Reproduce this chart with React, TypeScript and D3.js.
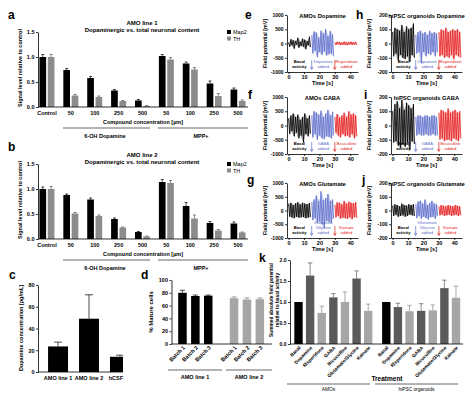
import { useRef, useEffect, FC } from 'react'
import * as d3 from 'd3'

const FONT = 'Arial, "Liberation Sans", Helvetica, sans-serif'
const DARK = '#5a5a5a'
const LIGHT = '#a6a6a6'
const MID = '#8c8c8c'
const BLUE = '#6070cc'
const RED = '#e42222'

// panels a / b
const doseKeys = ['c', 'd50', 'd100', 'd250', 'd500', 'm50', 'm100', 'm250', 'm500']
const doseLabels = ['Control', '50', '100', '250', '500', '50', '100', '250', '500']
const amo1Map2 = [1.0, 0.74, 0.58, 0.33, 0.13, 1.02, 0.87, 0.47, 0.35]
const amo1Map2Err = [0.05, 0.03, 0.03, 0.02, 0.02, 0.03, 0.03, 0.05, 0.03]
const amo1TH = [1.0, 0.23, 0.2, 0.12, 0.02, 0.95, 0.75, 0.22, 0.12]
const amo1THErr = [0.05, 0.02, 0.02, 0.01, 0.01, 0.04, 0.04, 0.05, 0.02]
const amo2Map2 = [1.0, 0.88, 0.79, 0.4, 0.14, 1.14, 0.66, 0.32, 0.31]
const amo2Map2Err = [0.04, 0.02, 0.03, 0.02, 0.01, 0.05, 0.07, 0.03, 0.03]
const amo2TH = [1.0, 0.51, 0.46, 0.23, 0.05, 1.12, 0.41, 0.17, 0.13]
const amo2THErr = [0.05, 0.02, 0.02, 0.01, 0.01, 0.05, 0.07, 0.02, 0.01]

// panel c
const dopSources = ['AMO line 1', 'AMO line 2', 'hCSF']
const dopConc = [23.5, 49, 14]
const dopConcErr = [4, 22, 1.5]

// panel d
const batchKeys = ['a1', 'a2', 'a3', 'gap', 'b1', 'b2', 'b3']
const batchLabels = ['Batch 1', 'Batch 2', 'Batch 3']
const matureAmo1 = [80, 75, 75.5]
const matureAmo1Err = [4, 1.5, 1]
const matureAmo2 = [71.5, 69.5, 70]
const matureAmo2Err = [2, 2.5, 2]

// panel k
const treatments = ['Basal', 'Dopamine', 'Risperidone', 'GABA', 'Bicuculline', 'Glutamate/Glycine', 'Kainate']
const treatmentColors = ['#000', DARK, LIGHT, DARK, LIGHT, DARK, LIGHT]
const amosSummed = [1.0, 1.63, 0.74, 1.11, 1.0, 1.56, 0.79]
const amosSummedErr = [0, 0.3, 0.16, 0.09, 0.24, 0.18, 0.16]
const hipscSummed = [1.0, 0.88, 0.78, 0.79, 0.8, 1.33, 1.1]
const hipscSummedErr = [0, 0.09, 0.14, 0.17, 0.13, 0.19, 0.28]

// panels e-j, field potential samples (mV), one every 0.75 s
const amosDopBasal = [40, -120, 150, -60, 110, -180, 90, -40, 200, -150, 60, -90, 170, -110, 130, -200, 80, -60, 240, -130]
const amosDopAdded = [300, -350, 420, -250, 380, -480, 200, -300, 450, -400, 350, -280, 500, -420, 260, -380, 440, -350, 310, -450]
const amosDopBlocked = [40, -50, 60, -30, 50, -60, 30, -40, 70, -50, 40, -60, 50, -30, 60, -50, 40, -40, 60, -50]
const amosGabaBasal = [250, -300, 350, -200, 420, -380, 300, -250, 380, -450, 200, -350, 300, -600, 420, -300, 250, -380, 350, -280]
const amosGabaAdded = [350, -420, 500, -300, 450, -500, 380, -350, 520, -450, 300, -480, 420, -380, 550, -400, 350, -450, 480, -350]
const amosGabaBlocked = [300, -250, 400, -350, 280, -420, 350, -300, 450, -380, 300, -350, 500, -420, 380, -300, 420, -450, 350, -380]
const amosGluBasal = [250, -220, 280, -250, 200, -280, 260, -230, 300, -260, 220, -250, 280, -240, 250, -280, 230, -260, 270, -240]
const amosGluAdded = [300, -350, 400, -280, 550, -450, 350, -400, 700, -500, 380, -650, 450, -380, 600, -420, 350, -450, 400, -300]
const amosGluBlocked = [200, -250, 300, -200, 280, -300, 220, -260, 350, -280, 250, -300, 320, -250, 280, -320, 260, -240, 300, -270]
const hipscDopBasal = [80, -90, 110, -70, 100, -120, 90, -80, 130, -100, 80, -110, 120, -90, 100, -130, 110, -80, 140, -100]
const hipscDopAdded = [60, -70, 80, -60, 90, -140, 70, -60, 80, -90, 60, -70, 90, -80, 70, -60, 80, -90, 70, -60]
const hipscDopBlocked = [80, -90, 100, -80, 90, -100, 110, -90, 80, -100, 90, -80, 100, -110, 90, -80, 100, -90, 80, -100]
const hipscGabaBasal = [100, -120, 150, -110, 170, -140, 120, -160, 180, -130, 110, -150, 160, -120, 140, -170, 120, -110, 150, -130]
const hipscGabaAdded = [60, -70, 70, -60, 70, -70, 60, -70, 70, -60, 70, -70, 60, -70, 70, -60, 70, -70, 60, -70]
const hipscGabaBlocked = [90, -100, 110, -90, 100, -110, 90, -100, 120, -100, 90, -110, 100, -90, 110, -100, 90, -110, 100, -90]
const hipscGluBasal = [35, -40, 45, -30, 40, -45, 30, -40, 50, -35, 40, -45, 35, -40, 45, -30, 40, -35, 45, -40]
const hipscGluAdded = [45, -55, 65, -40, 70, -60, 50, -45, 80, -55, 40, -65, 55, -50, 70, -45, 50, -60, 45, -40]
const hipscGluBlocked = [30, -35, 40, -30, 35, -40, 30, -35, 40, -30, 35, -40, 30, -35, 40, -30, 35, -40, 30, -35]
const timeTicks = [0, 10, 20, 30, 40]

const YAxis: FC<{ scale: d3.ScaleLinear<number, number>; x: number; ticks: number[]; fmt?: (d: number) => string; size?: number }> = ({ scale, x, ticks, fmt, size = 5.5 }) => {
	const ref = useRef<SVGGElement | null>(null)
	useEffect(() => {
		if (!ref.current) return
		const g = d3.select(ref.current)
		g.selectAll('*').remove()
		g.call(
			d3
				.axisLeft(scale)
				.tickValues(ticks)
				.tickSize(2)
				.tickSizeOuter(0)
				.tickPadding(1.5)
				.tickFormat((d: any) => (fmt ? fmt(+d) : String(d)))
		)
		g.attr('font-family', FONT).attr('font-size', size).attr('font-weight', 'bold')
		g.selectAll('path, line').attr('stroke', '#000').attr('stroke-width', 0.8)
	})
	return <g ref={ref} transform={`translate(${x},0)`} />
}

const XTimeAxis: FC<{ scale: d3.ScaleLinear<number, number>; y: number }> = ({ scale, y }) => {
	const ref = useRef<SVGGElement | null>(null)
	useEffect(() => {
		if (!ref.current) return
		const g = d3.select(ref.current)
		g.selectAll('*').remove()
		g.call(d3.axisBottom(scale).tickValues(timeTicks).tickSize(2).tickSizeOuter(0).tickPadding(1))
		g.attr('font-family', FONT).attr('font-size', 5.5).attr('font-weight', 'bold')
		g.selectAll('path, line').attr('stroke', '#000').attr('stroke-width', 0.8)
	})
	return <g ref={ref} transform={`translate(0,${y})`} />
}

const ErrBar: FC<{ x: number; y0: number; y1: number; w?: number; color?: string }> = ({ x, y0, y1, w = 3, color = '#000' }) => (
	<g stroke={color} strokeWidth={0.7}>
		<line x1={x} x2={x} y1={y0} y2={y1} />
		<line x1={x - w / 2} x2={x + w / 2} y1={y1} y2={y1} />
	</g>
)

const DoseChart: FC<{ dy: number; letter: string; title: string; map2: number[]; map2Err: number[]; th: number[]; thErr: number[] }> = ({ dy, letter, title, map2, map2Err, th, thErr }) => {
	const y = d3.scaleLinear().domain([0, 1.5]).range([107 + dy, 32 + dy])
	const x0 = d3.scaleBand().domain(doseKeys).range([35, 250])
	const x1 = d3.scaleBand().domain(['Map2', 'TH']).range([-7.5, 7.5]).paddingInner(0.2)
	const cx = (i: number) => (x0(doseKeys[i]) ?? 0) + x0.bandwidth() / 2
	const series = [
		{ key: 'Map2', vals: map2, err: map2Err, color: '#000' },
		{ key: 'TH', vals: th, err: thErr, color: MID },
	]
	return (
		<g fontFamily={FONT}>
			<text x={8} y={19 + dy} fontSize={12} fontWeight='bold'>{letter}</text>
			<text x={142} y={25 + dy} fontSize={6} fontWeight='bold' textAnchor='middle'>{title}</text>
			<text x={142} y={32 + dy} fontSize={6} fontWeight='bold' textAnchor='middle'>Dopaminergic vs. total neuronal content</text>
			<text transform={`translate(22,${68 + dy}) rotate(-90)`} fontSize={5.5} fontWeight='bold' textAnchor='middle'>Signal level relative to control</text>
			{series.map((s) =>
				s.vals.map((v, i) => {
					const bx = cx(i) + (x1(s.key) ?? 0)
					return (
						<g key={s.key + i}>
							<rect x={bx} y={y(v)} width={x1.bandwidth()} height={y(0) - y(v)} fill={s.color} />
							<ErrBar x={bx + x1.bandwidth() / 2} y0={y(v)} y1={y(v + s.err[i])} color={s.color === '#000' ? '#000' : '#555'} />
						</g>
					)
				})
			)}
			<YAxis scale={y} x={38} ticks={[0, 0.5, 1, 1.5]} fmt={d3.format('.1f')} />
			<line x1={38} x2={248} y1={y(0)} y2={y(0)} stroke='#000' strokeWidth={0.8} />
			{doseLabels.map((l, i) => (
				<text key={i} x={cx(i)} y={y(0) + 8} fontSize={5.5} fontWeight='bold' textAnchor='middle'>{l}</text>
			))}
			<text x={143} y={124 + dy} fontSize={5.5} fontWeight='bold' textAnchor='middle'>Compound concentration [µm]</text>
			<line x1={63} x2={150} y1={128 + dy} y2={128 + dy} stroke='#000' strokeWidth={0.6} />
			<line x1={158} x2={248} y1={128 + dy} y2={128 + dy} stroke='#000' strokeWidth={0.6} />
			<text x={105} y={138 + dy} fontSize={5.5} fontWeight='bold' textAnchor='middle'>6-OH Dopamine</text>
			<text x={201} y={138 + dy} fontSize={5.5} fontWeight='bold' textAnchor='middle'>MPP+</text>
			<rect x={227} y={30 + dy} width={4} height={4} fill='#000' />
			<text x={233} y={34 + dy} fontSize={5.5}>Map2</text>
			<rect x={227} y={36.5 + dy} width={4} height={4} fill={MID} />
			<text x={233} y={40.5 + dy} fontSize={5.5}>TH</text>
		</g>
	)
}

const PanelC: FC = () => {
	const y = d3.scaleLinear().domain([0, 80]).range([372, 285])
	const x = d3.scaleBand().domain(dopSources).range([42.5, 135.5]).paddingInner(0.355).paddingOuter(0.18)
	return (
		<g fontFamily={FONT}>
			<defs>
				<clipPath id='clipC'>
					<rect x={0} y={270} width={123} height={129} />
				</clipPath>
			</defs>
			<text x={9} y={279} fontSize={12} fontWeight='bold'>c</text>
			<text transform='translate(23,328) rotate(-90)' fontSize={5.5} fontWeight='bold' textAnchor='middle'>Dopamine concentration [pg/mL]</text>
			<g clipPath='url(#clipC)'>
				{dopConc.map((v, i) => {
					const bx = x(dopSources[i]) ?? 0
					return (
						<g key={i}>
							<rect x={bx} y={y(v)} width={x.bandwidth()} height={y(0) - y(v)} fill='#000' />
							<ErrBar x={bx + x.bandwidth() / 2} y0={y(v)} y1={y(v + dopConcErr[i])} w={8} />
						</g>
					)
				})}
			</g>
			<YAxis scale={y} x={38} ticks={[0, 20, 40, 60, 80]} />
			<line x1={38} x2={123} y1={y(0)} y2={y(0)} stroke='#000' strokeWidth={0.8} />
			{dopSources.map((l, i) => (
				<text key={i} x={(x(l) ?? 0) + x.bandwidth() / 2 - (i === 2 ? 4 : 0)} y={380} fontSize={5.5} fontWeight='bold' textAnchor='middle'>{l}</text>
			))}
		</g>
	)
}

const PanelD: FC = () => {
	const y = d3.scaleLinear().domain([0, 100]).range([344, 280])
	const x = d3.scaleBand().domain(batchKeys).range([176, 266.3]).paddingInner(0.34).paddingOuter(0.17)
	const groups = [
		{ keys: ['a1', 'a2', 'a3'], vals: matureAmo1, err: matureAmo1Err, color: '#000', label: 'AMO line 1', l0: 168, l1: 222 },
		{ keys: ['b1', 'b2', 'b3'], vals: matureAmo2, err: matureAmo2Err, color: LIGHT, label: 'AMO line 2', l0: 226, l1: 272 },
	]
	return (
		<g fontFamily={FONT}>
			<text x={141} y={279} fontSize={12} fontWeight='bold'>d</text>
			<text transform='translate(153,312) rotate(-90)' fontSize={6} fontWeight='bold' textAnchor='middle'>% Mature cells</text>
			{groups.map((g) => (
				<g key={g.label}>
					{g.vals.map((v, i) => {
						const bx = x(g.keys[i]) ?? 0
						const c = bx + x.bandwidth() / 2
						return (
							<g key={i}>
								<rect x={bx} y={y(v)} width={x.bandwidth()} height={y(0) - y(v)} fill={g.color} />
								<ErrBar x={c} y0={y(v)} y1={y(v + g.err[i])} w={5} color={g.color === '#000' ? '#000' : '#777'} />
								<text transform={`translate(${c + 3},${y(0) + 4}) rotate(-45)`} fontSize={5.5} fontWeight='bold' textAnchor='end'>{batchLabels[i]}</text>
							</g>
						)
					})}
					<line x1={g.l0} x2={g.l1} y1={370} y2={370} stroke='#000' strokeWidth={0.6} />
					<text x={(g.l0 + g.l1) / 2} y={379} fontSize={5.5} fontWeight='bold' textAnchor='middle'>{g.label}</text>
				</g>
			))}
			<YAxis scale={y} x={171.5} ticks={[0, 20, 40, 60, 80, 100]} />
			<line x1={171.5} x2={272} y1={y(0)} y2={y(0)} stroke='#000' strokeWidth={0.8} />
		</g>
	)
}

const PanelK: FC = () => {
	const y = d3.scaleLinear().domain([0, 2]).range([344, 260])
	const outer = d3.scaleBand().domain(['AMOs', 'hiPSC organoids']).range([292.7, 461.8]).paddingInner(0.074)
	const inner = d3.scaleBand().domain(treatments).range([0, outer.bandwidth()]).paddingInner(0.28).paddingOuter(0.14)
	const groups = [
		{ key: 'AMOs', vals: amosSummed, err: amosSummedErr, l0: 287, l1: 370 },
		{ key: 'hiPSC organoids', vals: hipscSummed, err: hipscSummedErr, l0: 375, l1: 458 },
	]
	return (
		<g fontFamily={FONT}>
			<text x={259} y={262} fontSize={12} fontWeight='bold'>k</text>
			<text transform='translate(273,300) rotate(-90)' fontSize={4.8} fontWeight='bold' textAnchor='middle'>
				<tspan x={0} dy={0}>Summed absolute field potential</tspan>
				<tspan x={0} dy={5.5}>relative to basal activity</tspan>
			</text>
			{groups.map((g) => (
				<g key={g.key}>
					{g.vals.map((v, i) => {
						const bx = (outer(g.key) ?? 0) + (inner(treatments[i]) ?? 0)
						const c = bx + inner.bandwidth() / 2
						return (
							<g key={i}>
								<rect x={bx} y={y(v)} width={inner.bandwidth()} height={y(0) - y(v)} fill={treatmentColors[i]} />
								{g.err[i] > 0 && <ErrBar x={c} y0={y(v)} y1={y(v + g.err[i])} w={4.5} color={treatmentColors[i] === LIGHT ? '#888' : treatmentColors[i]} />}
								<text transform={`translate(${c + 2.5},${y(0) + 4}) rotate(-45)`} fontSize={4.8} fontWeight='bold' textAnchor='end'>{treatments[i]}</text>
							</g>
						)
					})}
					<line x1={g.l0} x2={g.l1} y1={384} y2={384} stroke='#000' strokeWidth={0.6} />
					<text x={(g.l0 + g.l1) / 2} y={391} fontSize={4.8} textAnchor='middle'>{g.key}</text>
				</g>
			))}
			<YAxis scale={y} x={290} ticks={[0, 0.5, 1, 1.5, 2]} fmt={d3.format('.1f')} size={5} />
			<line x1={290} x2={463} y1={y(0)} y2={y(0)} stroke='#000' strokeWidth={0.8} />
			<text x={387} y={381} fontSize={6.5} fontWeight='bold' textAnchor='middle'>Treatment</text>
		</g>
	)
}

interface TraceProps {
	letter: string
	lx: number
	ly: number
	title: string
	axisX: number
	top: number
	bottom: number
	yMax: number
	basal: number[]
	added: number[]
	blocked: number[]
	addedLabel: string[]
	blockedLabel: string[]
}

const TracePanel: FC<TraceProps> = ({ letter, lx, ly, title, axisX, top, bottom, yMax, basal, added, blocked, addedLabel, blockedLabel }) => {
	const x = d3.scaleLinear().domain([-1, 45]).range([axisX, axisX + 71])
	const y = d3.scaleLinear().domain([-yMax, yMax]).range([bottom, top])
	const line = d3
		.line<number>()
		.x((_, i) => x(i * 0.75))
		.y((d) => y(d))
	// envelope: each +/- sample pair gives the band at that moment
	const area = d3
		.area<number>()
		.x((_, i) => x(i * 1.5 + 0.375))
		.y0((d, i, arr) => y(Math.min(d, (arr as number[])[i] ?? d)))
		.y1((d) => y(d))
	const pairs = (vals: number[]) => d3.range(0, vals.length, 2).map((i) => [vals[i], vals[i + 1]])
	const segs = [
		{ vals: basal, t0: 0, color: '#000' },
		{ vals: added, t0: 15, color: BLUE },
		{ vals: blocked, t0: 30, color: RED },
	]
	const arrow = (t: number, color: string) => {
		const ax = x(t)
		return (
			<path d={`M${ax},${bottom - 12}V${bottom - 3}M${ax - 1.4},${bottom - 5.2}L${ax},${bottom - 2.5}L${ax + 1.4},${bottom - 5.2}`} stroke={color} strokeWidth={0.7} fill='none' />
		)
	}
	const block = (lines: string[], t: number, color: string, bold = false) => (
		<text x={x(t)} y={bottom - 4 - (lines.length - 1) * 4.8} fontSize={4.2} fill={color} fontWeight={bold ? 'bold' : 'normal'} textAnchor='middle'>
			{lines.map((l, i) => (
				<tspan key={i} x={x(t)} dy={i === 0 ? 0 : 4.8}>{l}</tspan>
			))}
		</text>
	)
	return (
		<g fontFamily={FONT}>
			<text x={lx} y={ly} fontSize={12} fontWeight='bold'>{letter}</text>
			<text x={x(22)} y={top + 2.5} fontSize={5.8} fontWeight='bold' textAnchor='middle'>{title}</text>
			<text transform={`translate(${axisX - 20},${(top + bottom) / 2}) rotate(-90)`} fontSize={5.3} fontWeight='bold' textAnchor='middle'>Field potential [mV]</text>
			{segs.map((s, k) => {
				const p = pairs(s.vals)
				const env = d3
					.area<number[]>()
					.x((_, i) => x(i * 1.5 + 0.375))
					.y0((d) => y(Math.min(d[0], d[1])))
					.y1((d) => y(Math.max(d[0], d[1])))
				return (
					<g key={k} transform={`translate(${x(s.t0) - x(0)},0)`}>
						<path d={env(p) ?? ''} fill={s.color} opacity={0.35} />
						<path d={line(s.vals) ?? ''} stroke={s.color} strokeWidth={0.8} fill='none' />
					</g>
				)
			})}
			{block(['Basal', 'activity'], 7, '#000', true)}
			{arrow(15, BLUE)}
			{block(addedLabel, 22.5, BLUE)}
			{arrow(30, RED)}
			{block(blockedLabel, 37.5, RED)}
			<YAxis scale={y} x={axisX} ticks={[-yMax, -yMax / 2, 0, yMax / 2, yMax]} size={5} />
			<XTimeAxis scale={x} y={bottom} />
			<text x={x(22)} y={bottom + 13} fontSize={5.5} fontWeight='bold' textAnchor='middle'>Time [s]</text>
		</g>
	)
}

const rows = [
	{ top: 15, bottom: 72, amos: 'AMOs Dopamine', hipsc: 'hiPSC organoids Dopamine', added: ['Dopamine', 'added'], blocked: ['Risperidone', 'added'] },
	{ top: 97, bottom: 154, amos: 'AMOs GABA', hipsc: 'hiPSC organoids GABA', added: ['GABA', 'added'], blocked: ['Bicuculline', 'added'] },
	{ top: 183, bottom: 238, amos: 'AMOs Glutamate', hipsc: 'hiPSC organoids Glutamate', added: ['Glutamate', '/Glycine', 'added'], blocked: ['Kainate', 'added'] },
]
const amosTraces = [
	[amosDopBasal, amosDopAdded, amosDopBlocked],
	[amosGabaBasal, amosGabaAdded, amosGabaBlocked],
	[amosGluBasal, amosGluAdded, amosGluBlocked],
]
const hipscTraces = [
	[hipscDopBasal, hipscDopAdded, hipscDopBlocked],
	[hipscGabaBasal, hipscGabaAdded, hipscGabaBlocked],
	[hipscGluBasal, hipscGluAdded, hipscGluBlocked],
]
const leftLetters = [
	{ l: 'e', x: 245, y: 19 },
	{ l: 'f', x: 248, y: 99 },
	{ l: 'g', x: 247, y: 184 },
]
const rightLetters = [
	{ l: 'h', x: 356, y: 19 },
	{ l: 'i', x: 364, y: 99 },
	{ l: 'j', x: 362, y: 184 },
]

const App: FC = () => {
	return (
		<svg width={474} height={399} style={{ position: 'absolute', left: 0, top: 0, background: '#fff' }}>
			<DoseChart dy={0} letter='a' title='AMO line 1' map2={amo1Map2} map2Err={amo1Map2Err} th={amo1TH} thErr={amo1THErr} />
			<DoseChart dy={132} letter='b' title='AMO line 2' map2={amo2Map2} map2Err={amo2Map2Err} th={amo2TH} thErr={amo2THErr} />
			<PanelC />
			<PanelD />
			{rows.map((r, i) => (
				<g key={i}>
					<TracePanel letter={leftLetters[i].l} lx={leftLetters[i].x} ly={leftLetters[i].y} title={r.amos} axisX={287} top={r.top} bottom={r.bottom} yMax={1000} basal={amosTraces[i][0]} added={amosTraces[i][1]} blocked={amosTraces[i][2]} addedLabel={r.added} blockedLabel={r.blocked} />
					<TracePanel letter={rightLetters[i].l} lx={rightLetters[i].x} ly={rightLetters[i].y} title={r.hipsc} axisX={391} top={r.top} bottom={r.bottom} yMax={200} basal={hipscTraces[i][0]} added={hipscTraces[i][1]} blocked={hipscTraces[i][2]} addedLabel={r.added} blockedLabel={r.blocked} />
				</g>
			))}
			<PanelK />
		</svg>
	)
}

export default App
